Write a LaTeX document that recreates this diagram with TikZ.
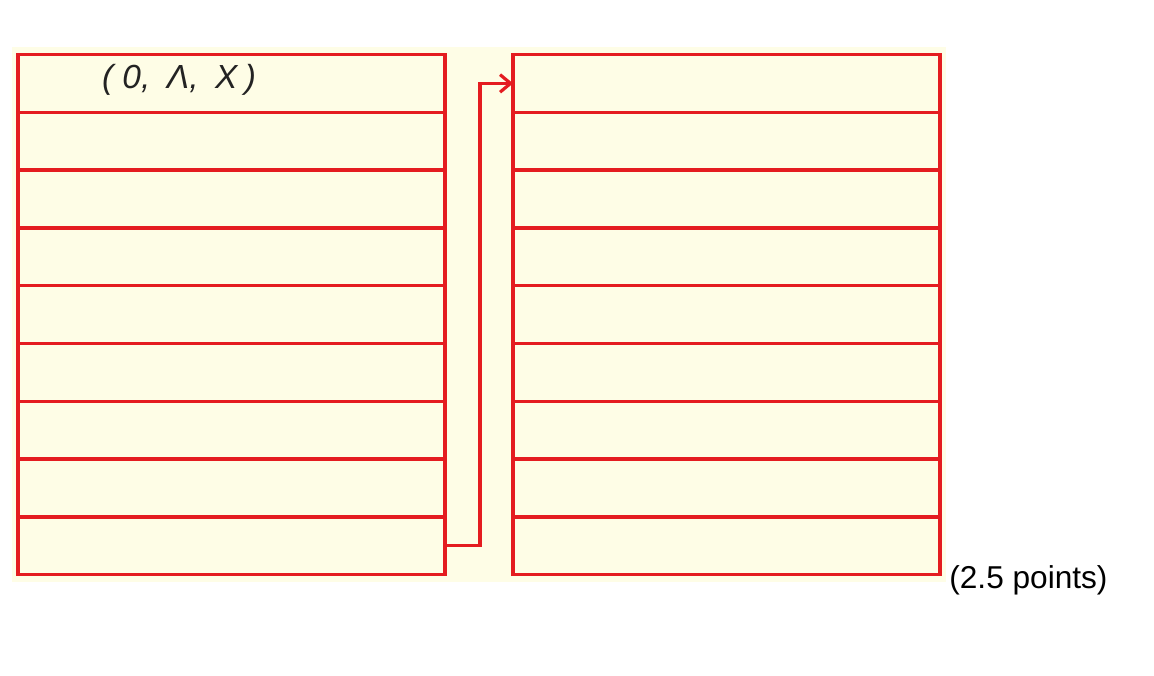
\documentclass[tikz,border=0pt]{standalone}
\usepackage{fontspec}
\setmainfont{Liberation Sans}
\usetikzlibrary{arrows.meta}
\definecolor{cellred}{RGB}{228,28,32}
\definecolor{cellbg}{RGB}{254,253,230}
\definecolor{tupleink}{RGB}{35,35,35}

\begin{document}
\begin{tikzpicture}[x=0.02cm,y=-0.02cm,
  cell/.style={draw=cellred,line width=2pt,minimum width=8.54cm,minimum height=1.156cm,inner sep=0pt,outer sep=0pt},
  link/.style={draw=cellred,line width=1.8pt,-{Straight Barb[length=6pt,width=10pt]}}]
\useasboundingbox (0,0) rectangle (1154,676);
\fill[cellbg] (12,47) rectangle (946,582);

\foreach \i in {1,...,9}
{
	\node[cell] (L\i) at (231.5,{54.5+(\i-0.5)*57.8}) {};
	\node[cell] (R\i) at (726.5,{54.5+(\i-0.5)*57.8}) {};
}

\node[text=tupleink,font=\fontsize{19}{21}\selectfont\itshape] (tuple) at (179,80)
  {(\hspace{0.28em}0,\hspace{0.5em}Λ,\hspace{0.5em}X\hspace{0.22em})};

\coordinate (turn) at (480,0);
\draw[link] (L9.east) -- (L9.east -| turn) |- (R1.west);

\node[anchor=base west,inner sep=0pt,font=\fontsize{18}{20}\selectfont] (pts) at (949,588) {(2.5 points)};

\end{tikzpicture}
\end{document}
